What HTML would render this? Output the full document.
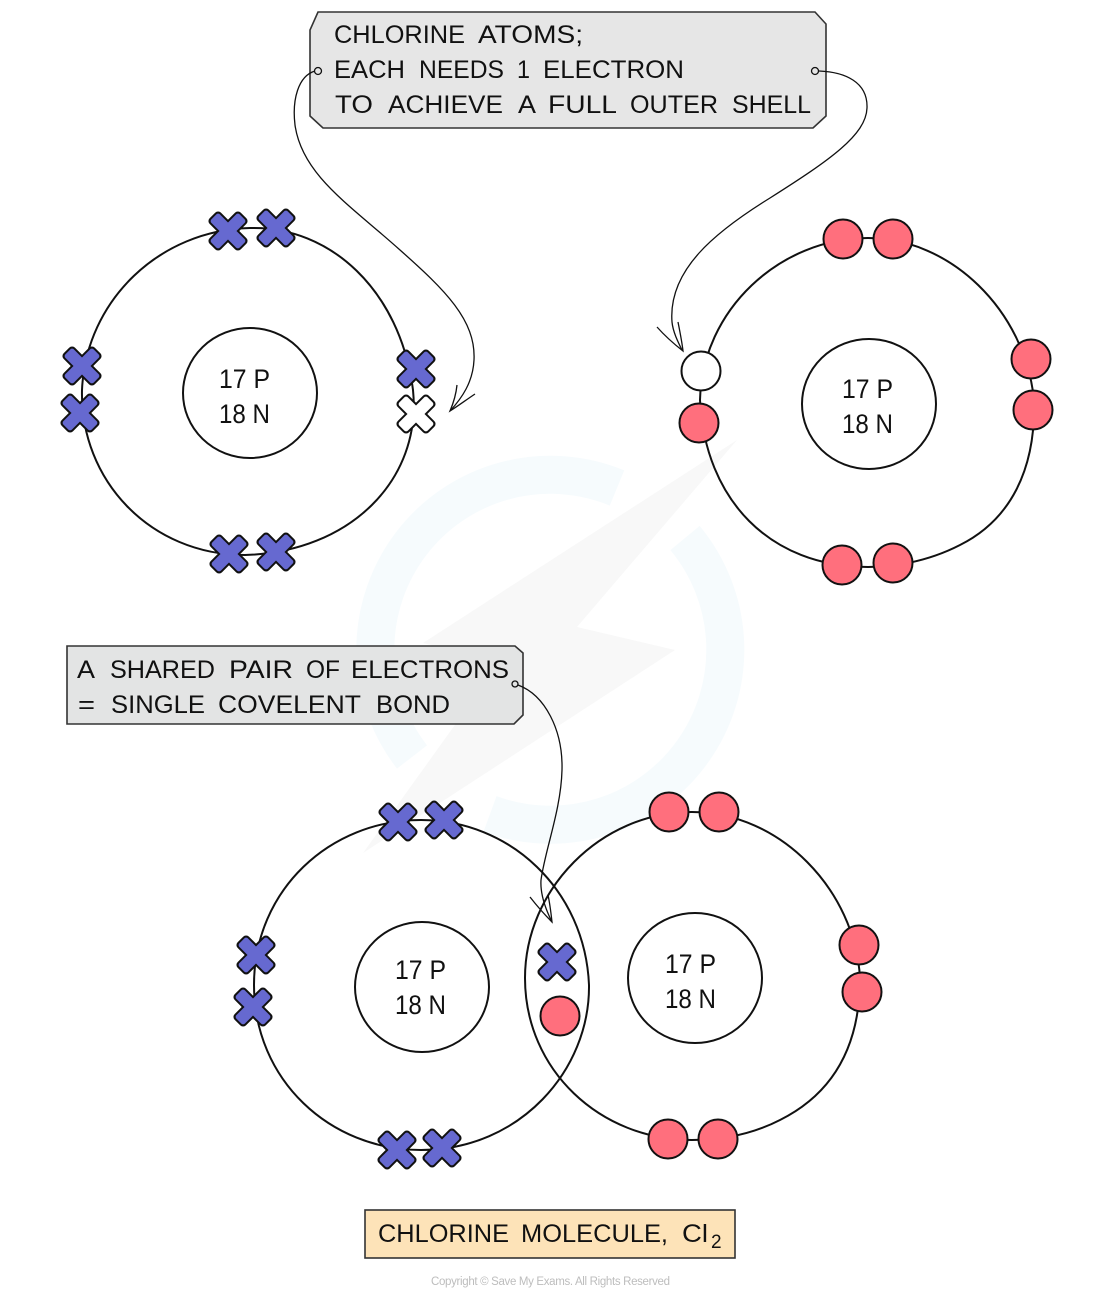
<!DOCTYPE html>
<html><head><meta charset="utf-8"><style>
html,body{margin:0;padding:0;background:#fff}
svg{display:block}
text{font-family:"Liberation Sans",sans-serif;fill:#111}
.l{font-size:25px}
.n{font-size:27px}
.o{fill:none;stroke:#111;stroke-width:2}
.t{fill:none;stroke:#111;stroke-width:1.3}
.e{fill:#ff6f7d;stroke:#111;stroke-width:2}
.w{fill:#fff;stroke:#111;stroke-width:2}
</style></head><body>
<svg width="1100" height="1294" viewBox="0 0 1100 1294" xmlns="http://www.w3.org/2000/svg">
<defs>
<g id="xb" fill="#111"><rect x="-22" y="-8" width="44" height="16" rx="4" transform="rotate(45)"/><rect x="-22" y="-8" width="44" height="16" rx="4" transform="rotate(-45)"/></g>
<g id="xi"><rect x="-20" y="-6" width="40" height="12" rx="2.5" transform="rotate(45)"/><rect x="-20" y="-6" width="40" height="12" rx="2.5" transform="rotate(-45)"/></g>
<g id="x"><use href="#xb"/><use href="#xi" fill="#6669d0"/></g>
<g id="xw"><use href="#xb"/><use href="#xi" fill="#fff"/></g>
</defs>
<!-- watermark -->
<path d="M412 757A175 175 0 0 1 617 488" fill="none" stroke="#f6fbfd" stroke-width="38"/>
<path d="M685 538A175 175 0 0 1 490 814" fill="none" stroke="#f6fbfd" stroke-width="38"/>
<polygon points="737,440 577,627 675,650 363,853 480,690 525,668 423,643" fill="#f8f8f8"/>

<!-- atoms -->
<path class="o" d="M250 228C330 226 400 290 413 390C422 480 350 552 245 555C150 555 80 480 82 390C86 300 160 230 250 228Z"/>
<path class="o" d="M868 238C950 238 1025 310 1034 400C1036 470 1010 520 960 545C925 563 890 567 868 567C770 567 705 500 700 400C702 310 780 238 868 238Z"/>
<path class="o" d="M421 820C510 820 585 890 589 985C590 1070 520 1150 421 1150C330 1150 254 1080 254 985C254 890 330 820 421 820Z"/>
<path class="o" d="M692 812C780 812 855 890 860 978C860 1050 830 1095 780 1120C745 1138 710 1140 692 1140C600 1140 525 1070 525 978C525 890 600 812 692 812Z"/>
<ellipse class="w" cx="250" cy="393" rx="67" ry="65"/>
<ellipse class="w" cx="869" cy="404" rx="67" ry="65"/>
<ellipse class="w" cx="422" cy="987" rx="67" ry="65"/>
<ellipse class="w" cx="695" cy="978" rx="67" ry="65"/>

<text class="n" x="219" y="388" textLength="51" lengthAdjust="spacingAndGlyphs">17 P</text><text class="n" x="219" y="423" textLength="51" lengthAdjust="spacingAndGlyphs">18 N</text>
<text class="n" x="842" y="398" textLength="51" lengthAdjust="spacingAndGlyphs">17 P</text><text class="n" x="842" y="433" textLength="51" lengthAdjust="spacingAndGlyphs">18 N</text>
<text class="n" x="395" y="979" textLength="51" lengthAdjust="spacingAndGlyphs">17 P</text><text class="n" x="395" y="1014" textLength="51" lengthAdjust="spacingAndGlyphs">18 N</text>
<text class="n" x="665" y="973" textLength="51" lengthAdjust="spacingAndGlyphs">17 P</text><text class="n" x="665" y="1008" textLength="51" lengthAdjust="spacingAndGlyphs">18 N</text>

<!-- crosses -->
<use href="#x" x="228" y="231"/><use href="#x" x="276" y="228"/>
<use href="#x" x="82" y="366"/><use href="#x" x="80" y="413"/>
<use href="#x" x="416" y="369"/><use href="#xw" x="416" y="414"/>
<use href="#x" x="229" y="554"/><use href="#x" x="276" y="552"/>
<use href="#x" x="398" y="822"/><use href="#x" x="444" y="820"/>
<use href="#x" x="256" y="955"/><use href="#x" x="253" y="1007"/>
<use href="#x" x="397" y="1150"/><use href="#x" x="442" y="1148"/>
<use href="#x" x="557" y="962"/>

<!-- dots -->
<circle class="e" cx="843" cy="239" r="19.5"/><circle class="e" cx="893" cy="239" r="19.5"/>
<circle class="e" cx="1031" cy="359" r="19.5"/><circle class="e" cx="1033" cy="410" r="19.5"/>
<circle class="w" cx="701" cy="371" r="19.5"/><circle class="e" cx="699" cy="423" r="19.5"/>
<circle class="e" cx="842" cy="565" r="19.5"/><circle class="e" cx="893" cy="563" r="19.5"/>
<circle class="e" cx="560" cy="1016" r="19.5"/>
<circle class="e" cx="669" cy="812" r="19.5"/><circle class="e" cx="719" cy="812" r="19.5"/>
<circle class="e" cx="859" cy="945" r="19.5"/><circle class="e" cx="862" cy="992" r="19.5"/>
<circle class="e" cx="668" cy="1139" r="19.5"/><circle class="e" cx="718" cy="1139" r="19.5"/>

<!-- callout 1 -->
<polygon points="318,12 815,12 826,24 826,116 813,128 323,128 310,116 310,30" fill="#e6e6e6" stroke="#333" stroke-width="1.6"/>
<g class="l" lengthAdjust="spacingAndGlyphs">
<text class="l" x="334" y="43" textLength="131" lengthAdjust="spacingAndGlyphs">CHLORINE</text>
<text class="l" x="478" y="43" textLength="105" lengthAdjust="spacingAndGlyphs">ATOMS;</text>
<text class="l" x="334" y="78" textLength="71" lengthAdjust="spacingAndGlyphs">EACH</text>
<text class="l" x="419" y="78" textLength="85" lengthAdjust="spacingAndGlyphs">NEEDS</text>
<text class="l" x="517" y="78" textLength="13" lengthAdjust="spacingAndGlyphs">1</text>
<text class="l" x="543" y="78" textLength="141" lengthAdjust="spacingAndGlyphs">ELECTRON</text>
<text class="l" x="335" y="113" textLength="38" lengthAdjust="spacingAndGlyphs">TO</text>
<text class="l" x="388" y="113" textLength="115" lengthAdjust="spacingAndGlyphs">ACHIEVE</text>
<text class="l" x="518" y="113" textLength="18" lengthAdjust="spacingAndGlyphs">A</text>
<text class="l" x="548" y="113" textLength="69" lengthAdjust="spacingAndGlyphs">FULL</text>
<text class="l" x="630" y="113" textLength="88" lengthAdjust="spacingAndGlyphs">OUTER</text>
<text class="l" x="732" y="113" textLength="79" lengthAdjust="spacingAndGlyphs">SHELL</text>
</g>
<path class="t" d="M315 71C298 76 292 100 295 125C302 175 350 205 400 250C445 290 476 320 474 360C473 382 462 398 450 411"/>
<path class="t" d="M457 385C456 395 453 404 450 411C458 406 466 400 475 394"/>
<circle cx="318" cy="71" r="3.5" fill="#e6e6e6" stroke="#111" stroke-width="1.3"/>
<path class="t" d="M819 71C845 72 868 82 867 108C866 135 830 160 770 198C715 232 668 270 672 322C673 332 678 342 682 350"/>
<path class="t" d="M657 327C665 336 674 344 683 351C682 342 680 332 678 322"/>
<circle cx="815" cy="71" r="3.5" fill="#e6e6e6" stroke="#111" stroke-width="1.3"/>

<!-- callout 2 -->
<polygon points="67,646 515,646 523,653 523,715 514,724 67,724" fill="#e3e4e4" stroke="#333" stroke-width="1.6"/>
<text class="l" x="77" y="678" textLength="18" lengthAdjust="spacingAndGlyphs">A</text>
<text class="l" x="110" y="678" textLength="105" lengthAdjust="spacingAndGlyphs">SHARED</text>
<text class="l" x="229" y="678" textLength="64" lengthAdjust="spacingAndGlyphs">PAIR</text>
<text class="l" x="306" y="678" textLength="34" lengthAdjust="spacingAndGlyphs">OF</text>
<text class="l" x="351" y="678" textLength="158" lengthAdjust="spacingAndGlyphs">ELECTRONS</text>
<text class="l" x="78" y="713" textLength="17" lengthAdjust="spacingAndGlyphs">=</text>
<text class="l" x="111" y="713" textLength="94" lengthAdjust="spacingAndGlyphs">SINGLE</text>
<text class="l" x="218" y="713" textLength="143" lengthAdjust="spacingAndGlyphs">COVELENT</text>
<text class="l" x="376" y="713" textLength="74" lengthAdjust="spacingAndGlyphs">BOND</text>
<path class="t" d="M518 685C545 695 563 730 562 770C561 810 545 850 541 880C540 895 546 910 552 922"/>
<path class="t" d="M530 897C537 906 545 915 552 922C551 913 550 904 548 895"/>
<circle cx="515" cy="684" r="3" fill="#e3e4e4" stroke="#111" stroke-width="1.3"/>

<!-- label -->
<rect x="365" y="1210" width="370" height="48" fill="#fde3b8" stroke="#333" stroke-width="1.6"/>
<text class="l" x="378" y="1242" textLength="131" lengthAdjust="spacingAndGlyphs">CHLORINE</text>
<text class="l" x="521" y="1242" textLength="147" lengthAdjust="spacingAndGlyphs">MOLECULE,</text>
<text class="l" x="682" y="1242" textLength="26" lengthAdjust="spacingAndGlyphs">Cl</text>
<text x="711" y="1248" font-size="19">2</text>
<text x="550.5" y="1285" font-size="11.5" text-anchor="middle" style="fill:#bdbdbd" textLength="239">Copyright © Save My Exams. All Rights Reserved</text>
</svg>
</body></html>
